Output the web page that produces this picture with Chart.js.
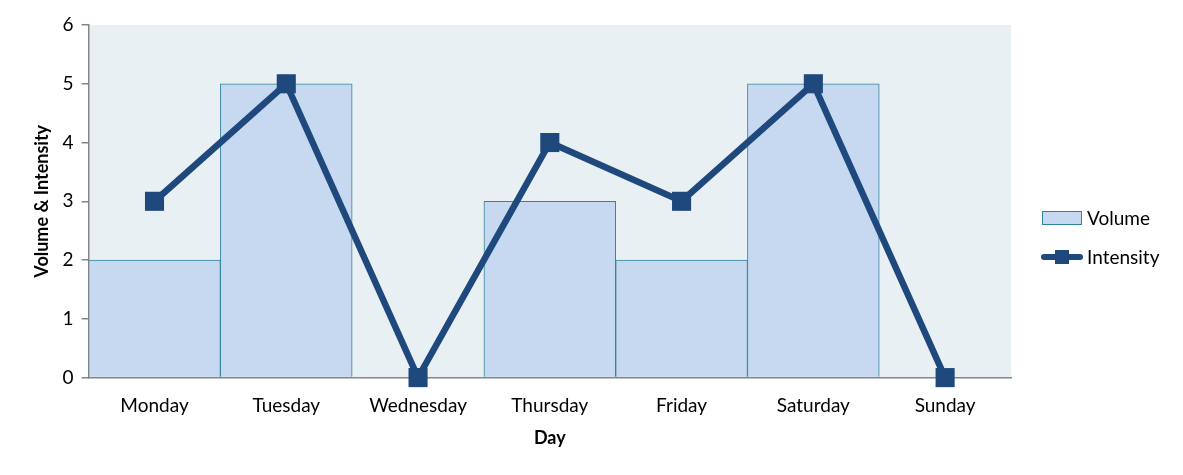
<!DOCTYPE html>
<html>
<head>
<meta charset="utf-8">
<script src="https://cdn.jsdelivr.net/npm/chart.js@4/dist/chart.umd.min.js"></script>
<style>
  html, body { margin: 0; padding: 0; background: #ffffff; }
  #wrap { width: 1183px; height: 475px; position: relative; }
</style>
</head>
<body>
<div id="wrap"><canvas id="dayChart"></canvas></div>
<script>
// Chart data
const days = ["Monday", "Tuesday", "Wednesday", "Thursday", "Friday", "Saturday", "Sunday"];
const volume = [2, 5, 0, 3, 2, 5, 0];
const intensity = [3, 5, 0, 4, 3, 5, 0];
const yTicks = [0, 1, 2, 3, 4, 5, 6];

const FONT = "Lato, 'Open Sans', sans-serif";
const LINE_BLUE = "#1f497d";
const BAR_FILL = "#c6d9f1";
const BAR_EDGE = "#31849b";
const PLOT_BG = "#e9f0f3";
const AXIS_GREY = "#868686";

// fill the plot area before anything else is drawn
const plotBackground = {
  id: "plotBackground",
  beforeDraw(chart) {
    const { ctx, chartArea: a } = chart;
    ctx.save();
    ctx.fillStyle = PLOT_BG;
    ctx.fillRect(a.left, a.top, a.right - a.left, a.bottom - a.top);
    ctx.restore();
  }
};

// legend drawn by hand so the line item gets its square marker
const sideLegend = {
  id: "sideLegend",
  afterDraw(chart) {
    const { ctx } = chart;
    const sets = chart.data.datasets;
    const bars = sets.find(d => d.type === "bar");
    const line = sets.find(d => d.type === "line");
    const x = 1042, w = 40;
    ctx.save();
    ctx.font = "19px " + FONT;
    ctx.textBaseline = "middle";

    // Volume
    let y = 218;
    ctx.fillStyle = bars.backgroundColor;
    ctx.fillRect(x, y - 7, w, 14);
    ctx.strokeStyle = bars.borderColor;
    ctx.lineWidth = 1;
    ctx.strokeRect(x + 0.5, y - 6.5, w - 1, 13);
    ctx.fillStyle = "#000";
    ctx.fillText(bars.label, x + w + 5, y + 1);

    // Intensity
    y = 257;
    ctx.strokeStyle = line.borderColor;
    ctx.lineWidth = 6;
    ctx.lineCap = "round";
    ctx.beginPath();
    ctx.moveTo(x + 2, y);
    ctx.lineTo(x + w - 2, y);
    ctx.stroke();
    ctx.fillStyle = line.borderColor;
    ctx.fillRect(x + w / 2 - 7, y - 7, 14, 14);
    ctx.fillStyle = "#000";
    ctx.fillText(line.label, x + w + 5, y + 1);
    ctx.restore();
  }
};

new Chart(document.getElementById("dayChart"), {
  data: {
    labels: days,
    datasets: [
      {
        type: "line",
        label: "Intensity",
        data: intensity,
        borderColor: LINE_BLUE,
        backgroundColor: LINE_BLUE,
        borderWidth: 6.5,
        pointStyle: "rect",
        pointRadius: 13.5,
        pointBorderWidth: 0,
        pointBackgroundColor: LINE_BLUE,
        tension: 0,
        clip: false,
        order: 1
      },
      {
        type: "bar",
        label: "Volume",
        data: volume,
        backgroundColor: BAR_FILL,
        borderColor: BAR_EDGE,
        borderWidth: 1,
        categoryPercentage: 1,
        barPercentage: 1,
        order: 2
      }
    ]
  },
  options: {
    responsive: true,
    maintainAspectRatio: false,
    animation: false,
    layout: { padding: { top: 25, right: 172, bottom: 22, left: 27 } },
    plugins: {
      legend: { display: false },
      tooltip: { enabled: false }
    },
    scales: {
      x: {
        grid: { display: false, drawTicks: false },
        border: { color: AXIS_GREY, width: 1.5 },
        ticks: { color: "#000", padding: 17, font: { family: FONT, size: 19 } },
        title: {
          display: true,
          text: "Day",
          color: "#000",
          padding: { top: -7 },
          font: { family: FONT, size: 18, weight: "bold" }
        }
      },
      y: {
        min: 0,
        max: 6,
        afterBuildTicks(axis) { axis.ticks = yTicks.map(v => ({ value: v })); },
        grid: { drawOnChartArea: false, tickLength: 7, color: AXIS_GREY, lineWidth: 1.5 },
        border: { color: AXIS_GREY, width: 1.5 },
        ticks: { color: "#000", padding: 8, font: { family: FONT, size: 19 } },
        title: {
          display: true,
          text: "Volume & Intensity",
          color: "#000",
          padding: { bottom: 2 },
          font: { family: FONT, size: 18, weight: "bold" }
        }
      }
    }
  },
  plugins: [plotBackground, sideLegend]
});
</script>
</body>
</html>
